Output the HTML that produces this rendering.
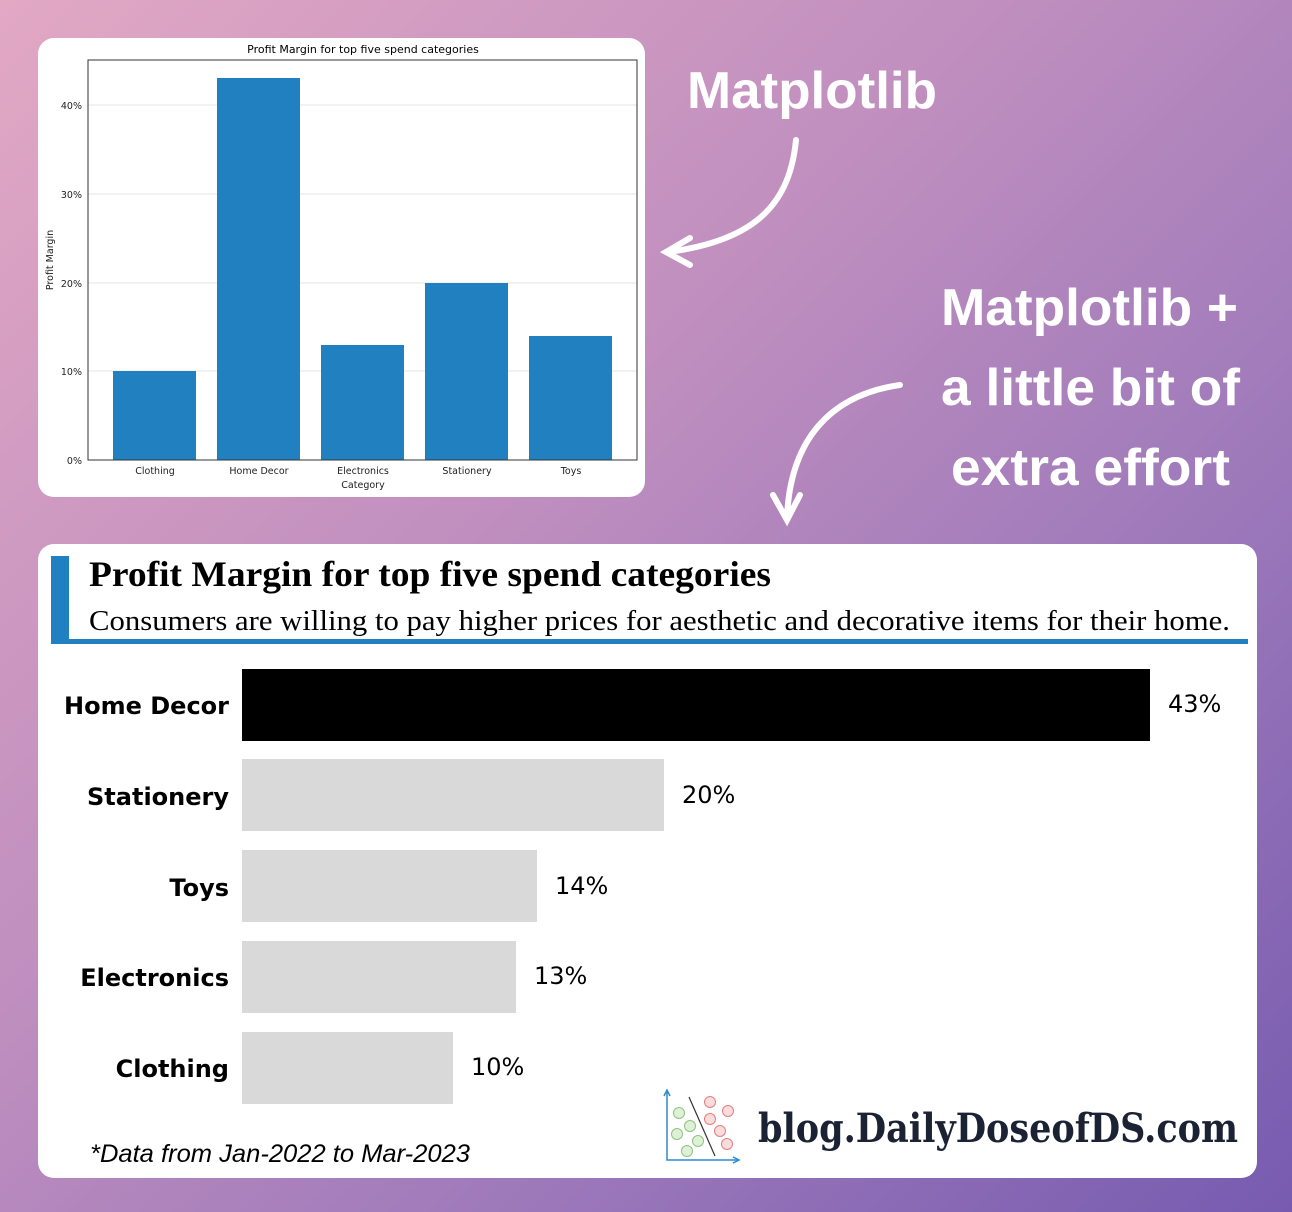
<!DOCTYPE html>
<html><head><style>
body{margin:0;width:1292px;height:1212px;overflow:hidden;background:linear-gradient(135deg,#e2a8c4 0%,#c08fbf 40%,#9c78ba 70%,#775bb0 100%);font-family:"Liberation Sans",sans-serif;position:relative}
.abs{position:absolute}
</style></head><body>
<svg class="abs" style="left:0;top:0" width="1292" height="1212">
<rect x="38" y="38" width="607" height="459" rx="16" fill="#fff"/>
<text x="363" y="53" font-size="11" text-anchor="middle" font-family="DejaVu Sans">Profit Margin for top five spend categories</text>
<g stroke="#e6e6e6" stroke-width="1">
<line x1="88" x2="637" y1="105" y2="105"/><line x1="88" x2="637" y1="194" y2="194"/><line x1="88" x2="637" y1="283" y2="283"/><line x1="88" x2="637" y1="371" y2="371"/></g>
<g fill="#2181c0">
<rect x="113" y="371" width="83" height="89"/><rect x="217" y="78" width="83" height="382"/><rect x="321" y="345" width="83" height="115"/><rect x="425" y="283" width="83" height="177"/><rect x="529" y="336" width="83" height="124"/></g>
<rect x="88" y="60" width="549" height="400" fill="none" stroke="#333" stroke-width="1"/>
<g font-size="9.5" font-family="DejaVu Sans" fill="#222" text-anchor="end">
<text x="82" y="464">0%</text><text x="82" y="375">10%</text><text x="82" y="287">20%</text><text x="82" y="198">30%</text><text x="82" y="109">40%</text></g>
<g font-size="9.5" font-family="DejaVu Sans" fill="#222" text-anchor="middle">
<text x="155" y="474">Clothing</text><text x="259" y="474">Home Decor</text><text x="363" y="474">Electronics</text><text x="467" y="474">Stationery</text><text x="571" y="474">Toys</text><text x="363" y="488">Category</text>
<text transform="translate(53,260) rotate(-90)">Profit Margin</text></g>
<g fill="none" stroke="#fff" stroke-width="6" stroke-linecap="round">
<path d="M796 140 C790 200 760 240 668 252"/><path d="M690 238 L666 252 L690 265"/>
<path d="M900 385 C830 395 790 440 787 518"/><path d="M773 495 L787 520 L800 495"/></g>
<g font-size="52" font-weight="bold" fill="#fff">
<text x="687" y="108" textLength="250" lengthAdjust="spacingAndGlyphs">Matplotlib</text>
<text x="941" y="325" textLength="297" lengthAdjust="spacingAndGlyphs">Matplotlib +</text>
<text x="941" y="405" textLength="299" lengthAdjust="spacingAndGlyphs">a little bit of</text>
<text x="951" y="485" textLength="279" lengthAdjust="spacingAndGlyphs">extra effort</text></g>
<rect x="38" y="544" width="1219" height="634" rx="16" fill="#fff"/>
<rect x="51" y="556" width="18" height="87" fill="#2181c0"/>
<rect x="51" y="639" width="1197" height="5" fill="#2181c0"/>
<text x="89" y="586" font-family="Liberation Serif,serif" font-size="36" font-weight="bold" textLength="682" lengthAdjust="spacingAndGlyphs">Profit Margin for top five spend categories</text>
<text x="89" y="630" font-family="Liberation Serif,serif" font-size="29" textLength="1141" lengthAdjust="spacingAndGlyphs">Consumers are willing to pay higher prices for aesthetic and decorative items for their home.</text>
<rect x="242" y="669" width="908" height="72" fill="#000"/>
<g fill="#d9d9d9"><rect x="242" y="759" width="422" height="72"/><rect x="242" y="850" width="295" height="72"/><rect x="242" y="941" width="274" height="72"/><rect x="242" y="1032" width="211" height="72"/></g>
<g font-family="DejaVu Sans" font-weight="bold" font-size="24" text-anchor="end">
<text x="229" y="714">Home Decor</text><text x="229" y="805">Stationery</text><text x="229" y="896">Toys</text><text x="229" y="986">Electronics</text><text x="229" y="1077">Clothing</text></g>
<g font-family="DejaVu Sans" font-size="24">
<text x="1168" y="712">43%</text><text x="682" y="803">20%</text><text x="555" y="894">14%</text><text x="534" y="984">13%</text><text x="471" y="1075">10%</text></g>
<text x="90" y="1162" font-size="25" font-style="italic" textLength="380" lengthAdjust="spacingAndGlyphs">*Data from Jan-2022 to Mar-2023</text>
<g fill="none" stroke="#2a8ad0" stroke-width="1.5"><path d="M667 1092 V1160 H738"/><path d="M664 1096 L667 1090 L670 1096 M733 1157 L739 1160 L733 1163"/></g>
<line x1="689" y1="1097" x2="715" y2="1156" stroke="#333" stroke-width="1.2"/>
<g fill="#dff0d8" stroke="#8cc47e"><circle cx="679" cy="1113" r="5.5"/><circle cx="690" cy="1126" r="5.5"/><circle cx="677" cy="1134" r="5.5"/><circle cx="698" cy="1141" r="5.5"/><circle cx="687" cy="1151" r="5.5"/></g>
<g fill="#fadcdc" stroke="#e07f7f"><circle cx="710" cy="1102" r="5.5"/><circle cx="728" cy="1111" r="5.5"/><circle cx="710" cy="1119" r="5.5"/><circle cx="720" cy="1131" r="5.5"/><circle cx="727" cy="1144" r="5.5"/></g>
<text x="758" y="1142" font-family="DejaVu Serif,serif" font-weight="bold" font-size="40" fill="#1a2233" textLength="480" lengthAdjust="spacingAndGlyphs">blog.DailyDoseofDS.com</text>
</svg>
</body></html>
